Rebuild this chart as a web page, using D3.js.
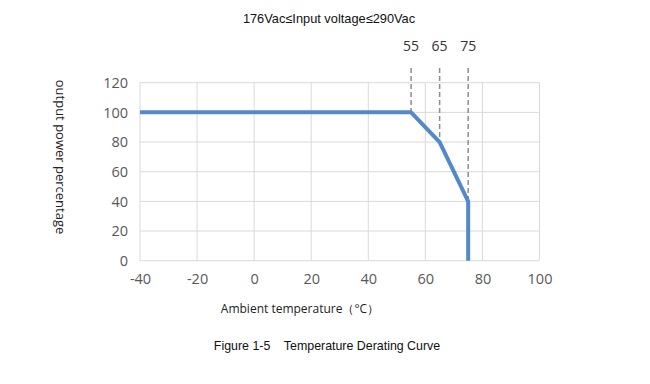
<!DOCTYPE html>
<html>
<head>
<meta charset="utf-8">
<script src="https://cdn.jsdelivr.net/npm/d3@7"></script>
<style>
  body { margin: 0; background: #fff; }
  text { font-family: "Open Sans", sans-serif; }
</style>
</head>
<body>
<svg></svg>
<script>
// data
const temps = [-40, 55, 65, 75, 75];
const power = [100, 100, 80, 40, 0];
const markTemps = [55, 65, 75];
const markPower = [100, 80, 40];
const xTicks = [-40, -20, 0, 20, 40, 60, 80, 100];
const yTicks = [0, 20, 40, 60, 80, 100, 120];

const W = 650, H = 384;
const svg = d3.select('svg').attr('width', W).attr('height', H);

const x = d3.scaleLinear().domain([-40, 100]).range([140, 539.5]);
const y = d3.scaleLinear().domain([0, 120]).range([260.7, 82.7]);

const grid = svg.append('g');
grid.selectAll('line.v')
  .data(xTicks)
  .enter().append('line')
    .attr('x1', d => x(d)).attr('x2', d => x(d))
    .attr('y1', y(0)).attr('y2', y(120))
    .attr('stroke', '#d9d9d9').attr('stroke-width', 1);
grid.selectAll('line.h')
  .data(yTicks)
  .enter().append('line')
    .attr('x1', x(-40)).attr('x2', x(100))
    .attr('y1', d => y(d)).attr('y2', d => y(d))
    .attr('stroke', '#d9d9d9').attr('stroke-width', 1);

// axes labels (plain hyphen for negatives, like the source)
const xAxis = svg.append('g')
  .attr('transform', `translate(0,${y(0)})`)
  .call(d3.axisBottom(x).tickValues(xTicks).tickSize(0).tickPadding(13).tickFormat(d => String(d)));
xAxis.select('.domain').remove();
xAxis.selectAll('text').attr('fill', '#595959').style('font-size', '14.5px');

const yAxis = svg.append('g')
  .attr('transform', `translate(${x(-40)},0)`)
  .call(d3.axisLeft(y).tickValues(yTicks).tickSize(0).tickPadding(12).tickFormat(d => String(d)));
yAxis.select('.domain').remove();
yAxis.selectAll('text').attr('fill', '#595959').style('font-size', '14.5px');

// dashed markers
svg.selectAll('line.mark')
  .data(markTemps)
  .enter().append('line')
    .attr('x1', d => x(d)).attr('x2', d => x(d))
    .attr('y1', 68)
    .attr('y2', (d, i) => y(markPower[i]))
    .attr('stroke', '#8c8c8c').attr('stroke-width', 1.5)
    .attr('stroke-dasharray', '5,3');

svg.selectAll('text.mark')
  .data(markTemps)
  .enter().append('text')
    .attr('x', d => x(d)).attr('y', 51)
    .attr('text-anchor', 'middle')
    .attr('fill', '#333')
    .style('font-size', '14px')
    .text(d => d);

// curve
const pts = temps.map((t, i) => [t, power[i]]);
svg.append('path')
  .datum(pts)
  .attr('fill', 'none')
  .attr('stroke', '#5288cc')
  .attr('stroke-width', 4)
  .attr('stroke-linejoin', 'round')
  .attr('d', d3.line().x(d => x(d[0])).y(d => y(d[1])));

// titles
svg.append('text')
  .attr('x', 329).attr('y', 23)
  .attr('text-anchor', 'middle')
  .style('font-family', '"Liberation Sans", Arial, sans-serif')
  .style('font-size', '12.8px')
  .attr('fill', '#111')
  .text('176Vac≤Input voltage≤290Vac');

svg.append('text')
  .attr('transform', 'translate(56,157) rotate(90)')
  .attr('text-anchor', 'middle')
  .style('font-size', '13px')
  .attr('fill', '#222')
  .text('output power percentage');

svg.append('text')
  .attr('x', 300).attr('y', 313)
  .attr('text-anchor', 'middle')
  .style('font-size', '12px')
  .attr('fill', '#222')
  .text('Ambient temperature（°C）');

svg.append('text')
  .attr('x', 327).attr('y', 350)
  .attr('text-anchor', 'middle')
  .style('font-family', '"Liberation Sans", Arial, sans-serif')
  .style('font-size', '12.4px')
  .attr('fill', '#111')
  .attr('xml:space', 'preserve')
  .text('Figure 1-5    Temperature Derating Curve');
</script>
</body>
</html>
